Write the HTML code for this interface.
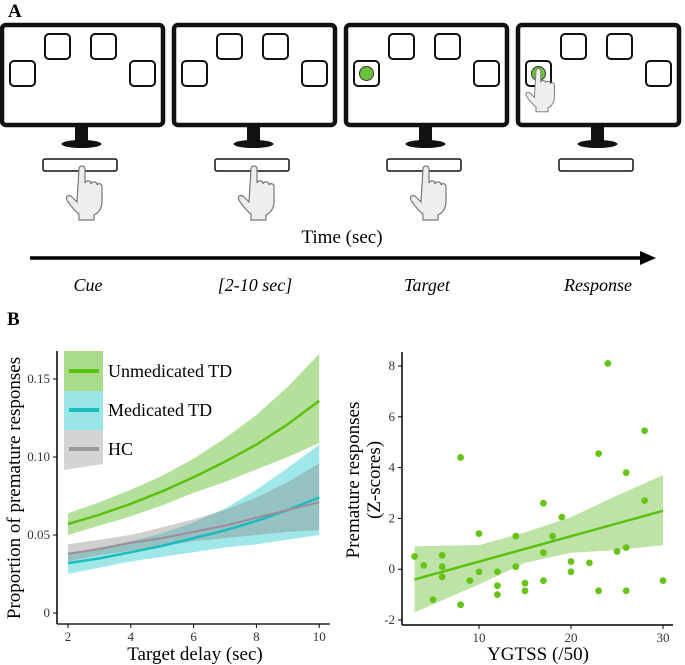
<!DOCTYPE html>
<html><head><meta charset="utf-8"><style>
body{margin:0;background:#fff;}
svg{display:block;font-family:"Liberation Serif",serif;}
</style></head><body>
<svg width="685" height="665" viewBox="0 0 685 665">
<defs>
<g id="hand">
<path d="M0,0 c0,-4 6,-4 6,0 l0,14 c1,-3 6,-3 6,1 c1,-3 6,-3 6,1 c1,-2 5,-2 5,2 l0,14 c0,8 -4,12 -8,14 l0,5 l-15,0 l0,-6 c-4,-3 -10,-10 -12,-14 c-2,-4 2,-6 5,-3 l5,5 z" fill="#eee" stroke="#777" stroke-width="1.2"/>
</g>
<g id="mon">
<rect x="2" y="2" width="161" height="100" rx="4" fill="#fff" stroke="#111" stroke-width="4.5"/>
<rect x="10" y="38" width="25" height="25" rx="4" fill="none" stroke="#111" stroke-width="2"/>
<rect x="45" y="11" width="25" height="25" rx="4" fill="none" stroke="#111" stroke-width="2"/>
<rect x="91" y="11" width="25" height="25" rx="4" fill="none" stroke="#111" stroke-width="2"/>
<rect x="130" y="38" width="25" height="25" rx="4" fill="none" stroke="#111" stroke-width="2"/>
<rect x="75" y="104" width="13" height="15" fill="#111"/>
<ellipse cx="81.5" cy="121" rx="20" ry="4" fill="#111"/>
<rect x="43" y="136" width="74" height="12" rx="2" fill="#fff" stroke="#111" stroke-width="1.5"/>
</g>
</defs>
<text x="8" y="17" font-size="19" font-weight="bold">A</text>
<g transform="translate(0,23)"><use href="#mon"/><use href="#hand" transform="translate(79,146)"/></g>
<g transform="translate(172,23)"><use href="#mon"/><use href="#hand" transform="translate(79,146)"/></g>
<g transform="translate(344,23)"><use href="#mon"/><use href="#hand" transform="translate(79,146)"/><circle cx="22.5" cy="50.5" r="7" fill="#6cc13a" stroke="#333" stroke-width="1"/></g>
<g transform="translate(516,23)"><use href="#mon"/><circle cx="22.5" cy="50.5" r="7" fill="#6cc13a" stroke="#333" stroke-width="1"/><use href="#hand" transform="translate(20,48) scale(0.8)"/></g>
<text x="342" y="243" font-size="19" text-anchor="middle">Time (sec)</text>
<line x1="30" y1="258" x2="642" y2="258" stroke="#000" stroke-width="3.5"/>
<polygon points="640,251 656,258 640,265" fill="#000"/>
<g font-size="18" font-style="italic" text-anchor="middle">
<text x="88" y="291">Cue</text>
<text x="255" y="291">[2-10 sec]</text>
<text x="427" y="291">Target</text>
<text x="598" y="291">Response</text>
</g>
<text x="7" y="325" font-size="19" font-weight="bold">B</text>
<g id="left"></g>
<g id="right"></g>
</svg>
<script>
const NS="http://www.w3.org/2000/svg";
// Left chart data
const delays=[2,3,4,5,6,7,8,9,10];
const unmedFit=[0.057,0.063,0.070,0.078,0.087,0.097,0.108,0.121,0.136];
const unmedLo=[0.050,0.056,0.062,0.069,0.077,0.084,0.092,0.100,0.109];
const unmedHi=[0.064,0.071,0.079,0.088,0.099,0.112,0.127,0.145,0.166];
const medFit=[0.032,0.035,0.039,0.043,0.048,0.053,0.059,0.066,0.074];
const medLo=[0.025,0.029,0.033,0.036,0.039,0.042,0.044,0.047,0.050];
const medHi=[0.038,0.042,0.046,0.051,0.058,0.067,0.079,0.093,0.108];
const hcFit=[0.038,0.041,0.045,0.048,0.052,0.056,0.061,0.066,0.071];
const hcLo=[0.033,0.037,0.040,0.043,0.046,0.048,0.050,0.052,0.053];
const hcHi=[0.044,0.047,0.050,0.055,0.060,0.066,0.074,0.084,0.096];
const leftXTicks=[2,4,6,8,10];
const leftYTicks=[0,0.05,0.10,0.15];
const leftYLabels=["0","0.05","0.10","0.15"];
// Right chart data
const ygtss=[3,4,5,6,6,6,8,8,9,10,10,12,12,12,14,14,15,15,17,17,17,18,19,20,20,22,23,23,24,25,26,26,26,28,28,30];
const zscores=[0.5,0.15,-1.2,0.55,0.1,-0.3,4.4,-1.4,-0.45,1.4,-0.1,-0.1,-0.65,-1.0,1.3,0.1,-0.55,-0.85,2.6,0.65,-0.45,1.3,2.05,0.3,-0.1,0.25,4.55,-0.85,8.1,0.7,3.8,0.85,-0.85,5.45,2.7,-0.45];
const bandX=[3,10,15,20,25,30];
const bandLo=[-1.7,-0.6,0.25,0.65,0.75,0.95];
const bandHi=[0.9,0.95,1.45,2.05,2.9,3.7];
const fitX=[3,30];
const fitY=[-0.4,2.3];
const rightXTicks=[10,20,30];
const rightYTicks=[-2,0,2,4,6,8];

function el(parent,tag,attrs,text){const e=document.createElementNS(NS,tag);for(const k in attrs)e.setAttribute(k,attrs[k]);if(text!==undefined)e.textContent=text;parent.appendChild(e);return e;}
function smooth(xs,ys,sx,sy){return xs.map((x,i)=>(i?'L':'M')+sx(x).toFixed(1)+','+sy(ys[i]).toFixed(1)).join(' ');}
function band(xs,lo,hi,sx,sy){let d=smooth(xs,hi,sx,sy);for(let i=xs.length-1;i>=0;i--)d+=' L'+sx(xs[i]).toFixed(1)+','+sy(lo[i]).toFixed(1);return d+' Z';}

// Left
const L=document.getElementById('left');
const lx=v=>68+(v-2)*31.4, ly=v=>613-v*1560;
let p;
p=el(L,'path',{d:band(delays,unmedLo,unmedHi,lx,ly),fill:'#6cc13a','fill-opacity':0.5});

p=el(L,'path',{d:band(delays,medLo,medHi,lx,ly),fill:'#2ccccc','fill-opacity':0.45});

p=el(L,'path',{d:band(delays,hcLo,hcHi,lx,ly),fill:'#888','fill-opacity':0.4});

p=el(L,'path',{d:smooth(delays,unmedFit,lx,ly),fill:'none',stroke:'#5cc010','stroke-width':2.5});

p=el(L,'path',{d:smooth(delays,medFit,lx,ly),fill:'none',stroke:'#1bbcc0','stroke-width':2.5});

p=el(L,'path',{d:smooth(delays,hcFit,lx,ly),fill:'none',stroke:'#a08c98','stroke-width':2});

el(L,'line',{x1:57,y1:351,x2:57,y2:624,stroke:'#000','stroke-width':1.5});
el(L,'line',{x1:57,y1:624,x2:330,y2:624,stroke:'#222','stroke-width':1.5});
leftYTicks.forEach((v,i)=>{el(L,'line',{x1:53,y1:ly(v),x2:57,y2:ly(v),stroke:'#000'});
 const t=el(L,'text',{x:50,y:ly(v)+4,'font-size':13,'text-anchor':'end',fill:'#333'},leftYLabels[i]);
 });
leftXTicks.forEach(v=>{el(L,'line',{x1:lx(v),y1:624,x2:lx(v),y2:628,stroke:'#000'});
 const t=el(L,'text',{x:lx(v),y:641,'font-size':13,'text-anchor':'middle',fill:'#333'},v);
 });
let t=el(L,'text',{x:195,y:660,'font-size':19,'text-anchor':'middle'},'Target delay (sec)');

t=el(L,'text',{transform:'translate(20,488) rotate(-90)','font-size':19,'text-anchor':'middle'},'Proportion of premature responses');

// legend
const lg=el(L,'g',{});
el(lg,'rect',{x:64,y:351,width:39,height:40,fill:'#a8dc88'});
el(lg,'rect',{x:64,y:391,width:39,height:39,fill:'#99e6e6'});
el(lg,'path',{d:'M64,430 L103,430 L103,464 L64,470 Z',fill:'#d4d4d4'});
el(lg,'line',{x1:69,y1:371,x2:99,y2:371,stroke:'#5cc010','stroke-width':4});
el(lg,'line',{x1:69,y1:410,x2:99,y2:410,stroke:'#1bbcc0','stroke-width':4});
el(lg,'line',{x1:69,y1:449,x2:99,y2:449,stroke:'#999','stroke-width':4});
[['Unmedicated TD',377],['Medicated TD',416],['HC',455]].forEach(a=>{const e=el(lg,'text',{x:108,y:a[1],'font-size':18},a[0]);
 });

// Right
const R=document.getElementById('right');
const rx=v=>479+(v-10)*9.2, ry=v=>620-(v+2)*25.4;
p=el(R,'path',{d:band(bandX,bandLo,bandHi,rx,ry),fill:'#6cc13a','fill-opacity':0.45});

p=el(R,'path',{d:smooth(fitX,fitY,rx,ry),fill:'none',stroke:'#5cc010','stroke-width':2.5});

ygtss.forEach((x,i)=>{const c=el(R,'circle',{cx:rx(x),cy:ry(zscores[i]),r:3.4,fill:'#66c418'});
 });
el(R,'line',{x1:402,y1:352,x2:402,y2:625,stroke:'#000','stroke-width':1.5});
el(R,'line',{x1:402,y1:625,x2:673,y2:625,stroke:'#000','stroke-width':1.5});
rightYTicks.forEach(v=>{el(R,'line',{x1:398,y1:ry(v),x2:402,y2:ry(v),stroke:'#000'});
 const e=el(R,'text',{x:395,y:ry(v)+4,'font-size':13,'text-anchor':'end',fill:'#333'},v);
 });
rightXTicks.forEach(v=>{el(R,'line',{x1:rx(v),y1:625,x2:rx(v),y2:629,stroke:'#000'});
 const e=el(R,'text',{x:rx(v),y:642,'font-size':13,'text-anchor':'middle',fill:'#333'},v);
 });
t=el(R,'text',{x:538,y:660,'font-size':19,'text-anchor':'middle'},'YGTSS (/50)');

t=el(R,'text',{transform:'translate(359,480) rotate(-90)','font-size':19,'text-anchor':'middle'},'Premature responses');

t=el(R,'text',{transform:'translate(380,480) rotate(-90)','font-size':19,'text-anchor':'middle'},'(Z-scores)');

</script>
</body></html>
